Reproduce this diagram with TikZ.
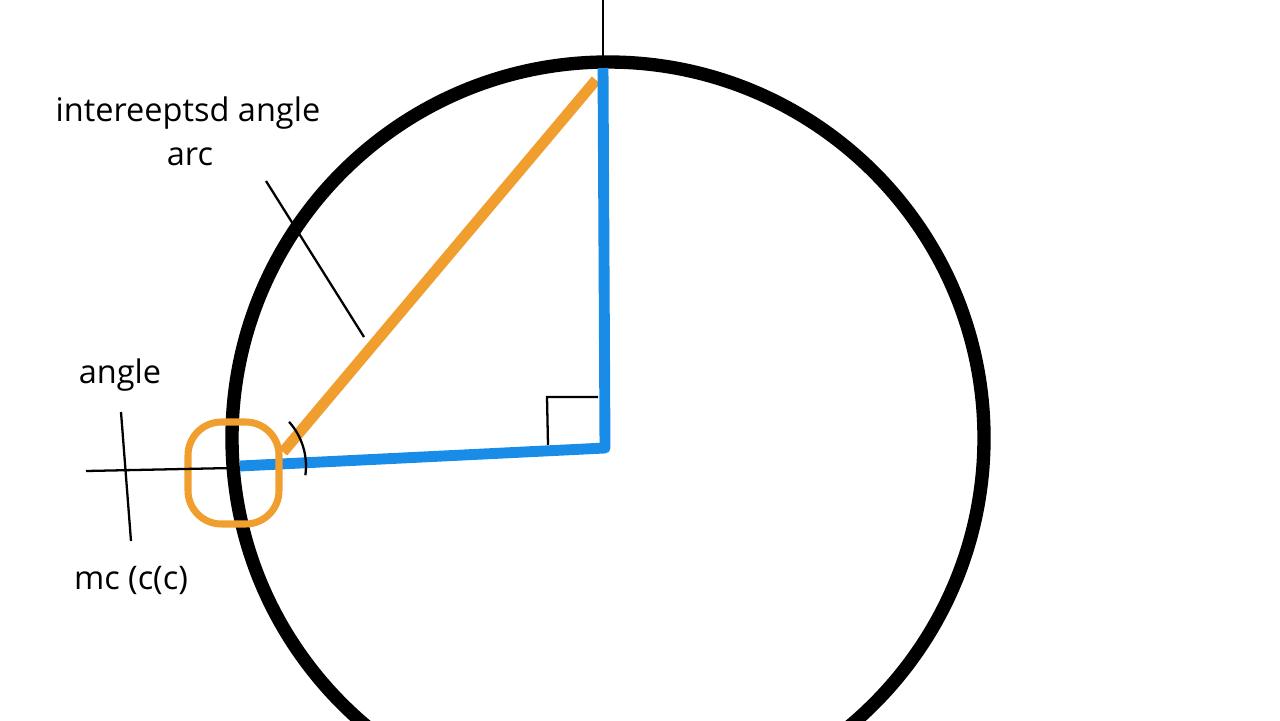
\documentclass[tikz,border=0pt]{standalone}
\usepackage{fontspec}
\setmainfont{Open Sans}
\usepackage{tikz}
\definecolor{chordorange}{RGB}{240,158,46}
\definecolor{sideblue}{RGB}{24,140,230}

\begin{document}
\begin{tikzpicture}[x=0.02cm,y=-0.02cm,
  lbl/.style={font=\fontsize{18.5}{22}\selectfont},
  thin line/.style={line width=1.3pt}]
\useasboundingbox (0,0) rectangle (1280,720);
\clip (0,0) rectangle (1280,720);
\coordinate (top) at (603,68);
\coordinate (corner) at (605,448);
\coordinate (left) at (240,466);
\draw[line width=7.6pt] (608,438) circle (376);
\draw[chordorange, line width=6.2pt] (596,80) -- (283,452);
\draw[sideblue, line width=6.2pt, line join=round] (top) -- (corner) -- (left);
\draw[thin line] (548,445) -- (547,397) -- (598,397);
\draw[chordorange, line width=4pt, rounded corners=19pt] (188,422) rectangle (279,524);
\draw[thin line] (left) ++(8:66) arc (8:-42:66);
\draw[thin line] (603,0) -- (603,58);
\draw[thin line] (266,181) -- (364,337);
\draw[thin line] (86,471) -- (232,468);
\draw[thin line] (121,412) -- (131,541);
\node[lbl] (lblarc) at (188,113) {intereeptsd angle};
\node[lbl] (lblarc2) at (190,157) {arc};
\node[lbl] (lblangle) at (120,375) {angle};
\node[lbl] (lblmc) at (131,580) {mc (c(c)};
\end{tikzpicture}
\end{document}
